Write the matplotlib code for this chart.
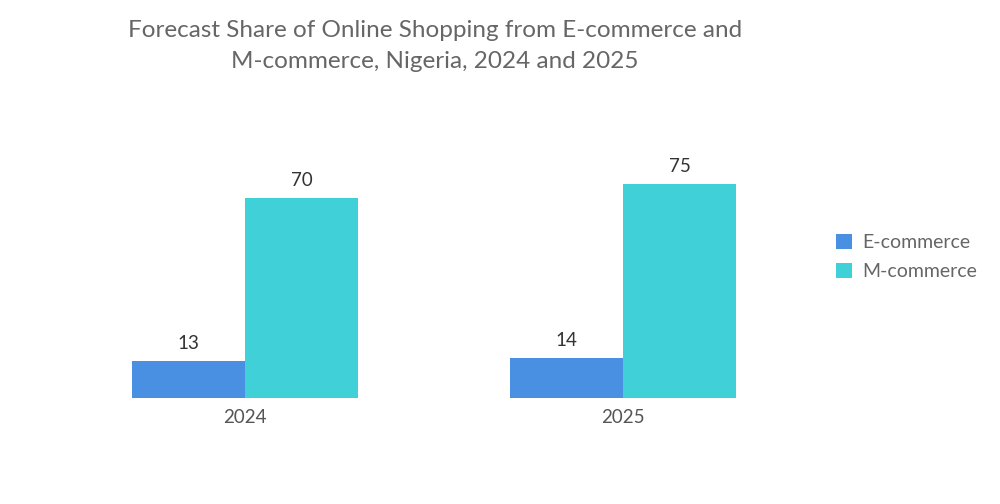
import numpy as np
import matplotlib
matplotlib.use("Agg")
import matplotlib.pyplot as plt

plt.rcParams["font.family"] = ["Lato", "DejaVu Sans"]

years = ["2024", "2025"]
ecommerce = [13, 14]
mcommerce = [70, 75]

C_E = "#4a90e2"
C_M = "#40d0d8"
GREY = "#555555"

fig = plt.figure(figsize=(10, 5.04), dpi=100)
ax = fig.add_axes([0.056, 0.2103, 0.756, 0.5317])

x = np.arange(len(years))
w = 0.3
b1 = ax.bar(x - w / 2, ecommerce, w, color=C_E, label="E-commerce")
b2 = ax.bar(x + w / 2, mcommerce, w, color=C_M, label="M-commerce")
for bars in (b1, b2):
    for r in bars:
        ax.text(r.get_x() + r.get_width() / 2, r.get_height() + 3, "%d" % r.get_height(),
                ha="center", va="bottom", fontsize=13.5, color="#333333")

ax.set_xlim(-0.5, 1.5)
ax.set_ylim(0, 93.8)
ax.set_xticks(x)
ax.set_xticklabels(years, fontsize=13.5, color=GREY)
ax.tick_params(axis="x", length=0, pad=8)
ax.set_yticks([])
for s in ax.spines.values():
    s.set_visible(False)

fig.text(0.435, 0.96, "Forecast Share of Online Shopping from E-commerce and\nM-commerce, Nigeria, 2024 and 2025",
         ha="center", va="top", fontsize=17.5, color="#666666", linespacing=1.6)

fig.legend(handles=[b1, b2], loc="center left", bbox_to_anchor=(0.818, 0.49), frameon=False,
           fontsize=14, labelcolor="#666666", handlelength=0.85, handleheight=0.85, handletextpad=0.5,
           labelspacing=0.6)

fig.savefig("out.png", dpi=100)
